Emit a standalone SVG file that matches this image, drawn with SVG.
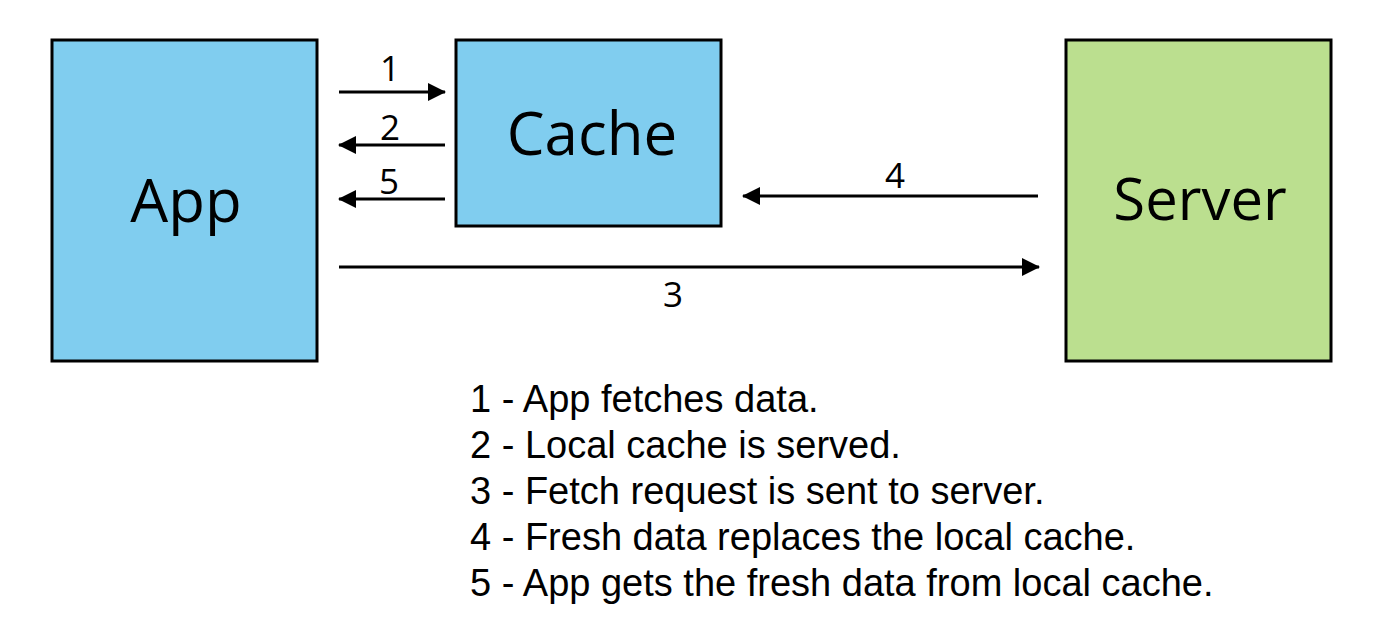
<svg xmlns="http://www.w3.org/2000/svg" width="1400" height="627" viewBox="0 0 1400 627">
<style>
.box{stroke:#000;stroke-width:3}
.blue{fill:#80cdef}
.green{fill:#bbdf8f}
.node{font-family:"Open Sans","Noto Sans",sans-serif;font-size:60px;fill:#000;text-anchor:middle}
.num{font-family:"Open Sans","Noto Sans",sans-serif;font-size:35px;fill:#000;text-anchor:middle}
.leg{font-family:"Liberation Sans",Arial,sans-serif;font-size:38px;fill:#000}
.conn{stroke:#000;stroke-width:3;fill:none}
</style>
<defs>
<marker id="ah" markerUnits="userSpaceOnUse" markerWidth="18" markerHeight="20" refX="17" refY="10" orient="auto">
<path d="M0,1 L18,10 L0,19 Z" fill="#000"/>
</marker>
</defs>
<rect width="1400" height="627" fill="#fff"/>
<g id="app">
<rect class="box blue" x="52" y="40" width="265" height="321"/>
<text class="node" x="186" y="222">App</text>
</g>
<g id="cache">
<rect class="box blue" x="456" y="40" width="265" height="186"/>
<text class="node" x="592" y="155">Cache</text>
</g>
<g id="server">
<rect class="box green" x="1066" y="40" width="265" height="321"/>
<text class="node" x="1200" y="220" style="font-size:58px">Server</text>
</g>
<g id="connectors">
<line class="conn" x1="339" y1="92" x2="445" y2="92" marker-end="url(#ah)"/>
<line class="conn" x1="445" y1="145" x2="339" y2="145" marker-end="url(#ah)"/>
<line class="conn" x1="445" y1="199" x2="339" y2="199" marker-end="url(#ah)"/>
<line class="conn" x1="1038" y1="196" x2="743" y2="196" marker-end="url(#ah)"/>
<line class="conn" x1="339" y1="267" x2="1039" y2="267" marker-end="url(#ah)"/>
<text class="num" x="390" y="81">1</text>
<text class="num" x="390" y="140">2</text>
<text class="num" x="389" y="194">5</text>
<text class="num" x="895" y="188">4</text>
<text class="num" x="673" y="307">3</text>
</g>
<g id="legend">
<text class="leg" x="470" y="412">1 - App fetches data.</text>
<text class="leg" x="470" y="458">2 - Local cache is served.</text>
<text class="leg" x="470" y="504">3 - Fetch request is sent to server.</text>
<text class="leg" x="470" y="550">4 - Fresh data replaces the local cache.</text>
<text class="leg" x="470" y="596">5 - App gets the fresh data from local cache.</text>
</g>
</svg>
